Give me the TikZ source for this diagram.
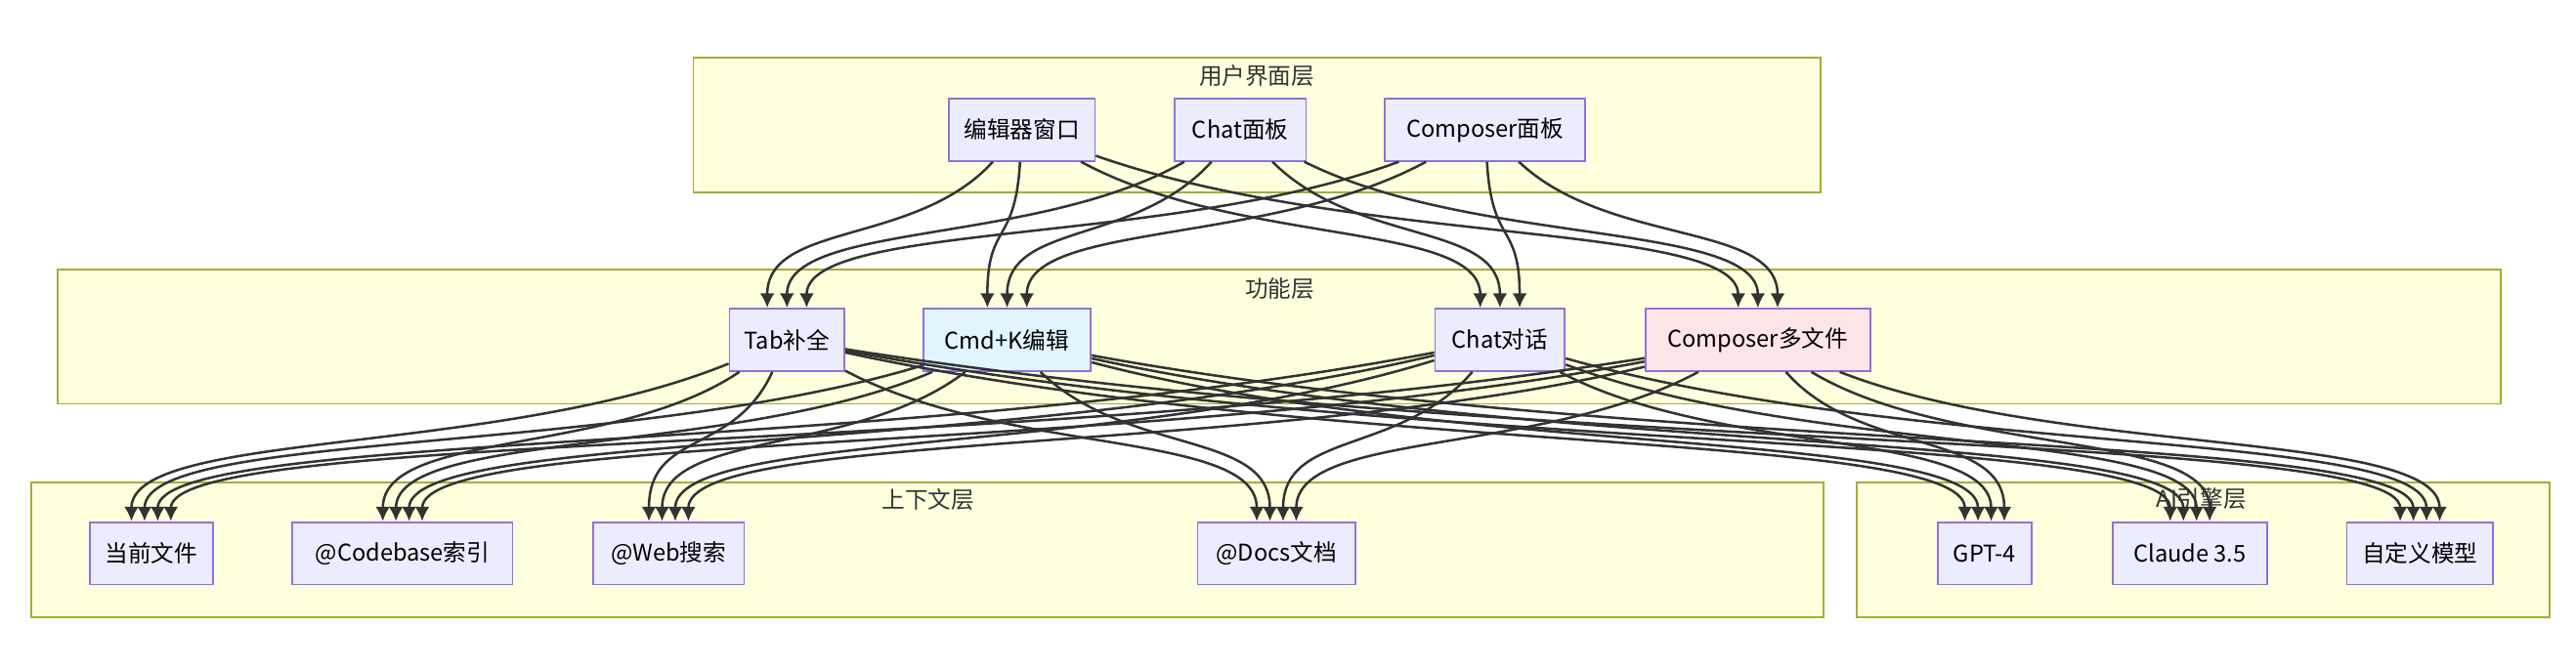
\documentclass[tikz,border=0pt]{standalone}
\usepackage{fontspec}
\setmainfont{Noto Sans CJK SC}
\usetikzlibrary{arrows.meta}
\definecolor{boxfill}{HTML}{ECECFF}
\definecolor{boxline}{HTML}{9370DB}
\definecolor{layerfill}{HTML}{FFFFDE}
\definecolor{layerline}{HTML}{AAAA33}
\definecolor{edgecol}{HTML}{333333}
\definecolor{cmdfill}{HTML}{E1F5FE}
\definecolor{compfill}{HTML}{FFE4E8}
\tikzset{
	layer/.style = {draw=layerline, fill=layerfill, line width=0.6pt},
	box/.style = {draw=boxline, fill=boxfill, line width=0.6pt, minimum height=0.76cm, inner sep=0pt, font=\fontsize{8}{10}\selectfont},
	ttl/.style = {font=\fontsize{8}{10}\selectfont, text=black!80},
	link/.style = {draw=edgecol, line width=0.85pt, -{Latex[length=5pt,width=5pt]}}
}
\begin{document}
\begin{tikzpicture}[x=0.02cm, y=-0.02cm]
	\useasboundingbox (0,0) rectangle (1568,407);
	
	% layers
	\draw[layer] (422,35) rectangle (1108,117);
	\node[ttl] (tui) at (765,46) {用户界面层};
	\draw[layer] (35,164) rectangle (1522,246);
	\node[ttl] (tfn) at (779,176) {功能层};
	\draw[layer] (19,294) rectangle (1110,376);
	\node[ttl] (tctx) at (565,304) {上下文层};
	\draw[layer] (1130,294) rectangle (1552,376);
	\node[ttl] (tai) at (1340,304) {AI引擎层};
	
	% user interface
	\node[box, minimum width=1.78cm] (editor) at (622,79) {编辑器窗口};
	\node[box, minimum width=1.6cm] (chatpanel) at (755,79) {Chat面板};
	\node[box, minimum width=2.44cm] (comppanel) at (904,79) {Composer面板};
	
	% features
	\node[box, minimum width=1.4cm] (tab) at (479,207) {Tab补全};
	\node[box, minimum width=2.04cm, fill=cmdfill] (cmdk) at (613,207) {Cmd+K编辑};
	\node[box, minimum width=1.58cm] (chat) at (913,207) {Chat对话};
	\node[box, minimum width=2.74cm, fill=compfill] (composer) at (1070,207) {Composer多文件};
	
	% context
	\node[box, minimum width=1.5cm] (curfile) at (92,337) {当前文件};
	\node[box, minimum width=2.68cm] (codebase) at (245,337) {@Codebase索引};
	\node[box, minimum width=1.84cm] (web) at (407,337) {@Web搜索};
	\node[box, minimum width=1.92cm] (docs) at (777,337) {@Docs文档};
	
	% models
	\node[box, minimum width=1.14cm] (gpt) at (1208,337) {GPT-4};
	\node[box, minimum width=1.88cm] (claude) at (1333,337) {Claude 3.5};
	\node[box, minimum width=1.78cm] (custom) at (1473,337) {自定义模型};
	
	% edges
	\foreach \src/\sx/\si in {editor/622/-1, chatpanel/755/0, comppanel/904/1} {
		\foreach \dst/\dx in {tab/479, cmdk/613, chat/913, composer/1070} {
			\pgfmathsetmacro\cA{\sx+0.45*(\dx-\sx)}
			\pgfmathsetmacro\off{\si*12}
			\draw[link] (\src) .. controls (\cA,150) and (\dx+\off,135) .. ([xshift=\off*0.02cm]\dst.north);
		}
	}
	\foreach \src/\sx/\si in {tab/479/-1.5, cmdk/613/-0.5, chat/913/0.5, composer/1070/1.5} {
		\foreach \dst/\dx in {curfile/92, codebase/245, web/407, docs/777, gpt/1208, claude/1333, custom/1473} {
			\pgfmathsetmacro\cA{\sx+0.45*(\dx-\sx)}
			\pgfmathsetmacro\off{\si*8}
			\draw[link] (\src) .. controls (\cA,278) and (\dx+\off,262) .. ([xshift=\off*0.02cm]\dst.north);
		}
	}
\end{tikzpicture}
\end{document}
